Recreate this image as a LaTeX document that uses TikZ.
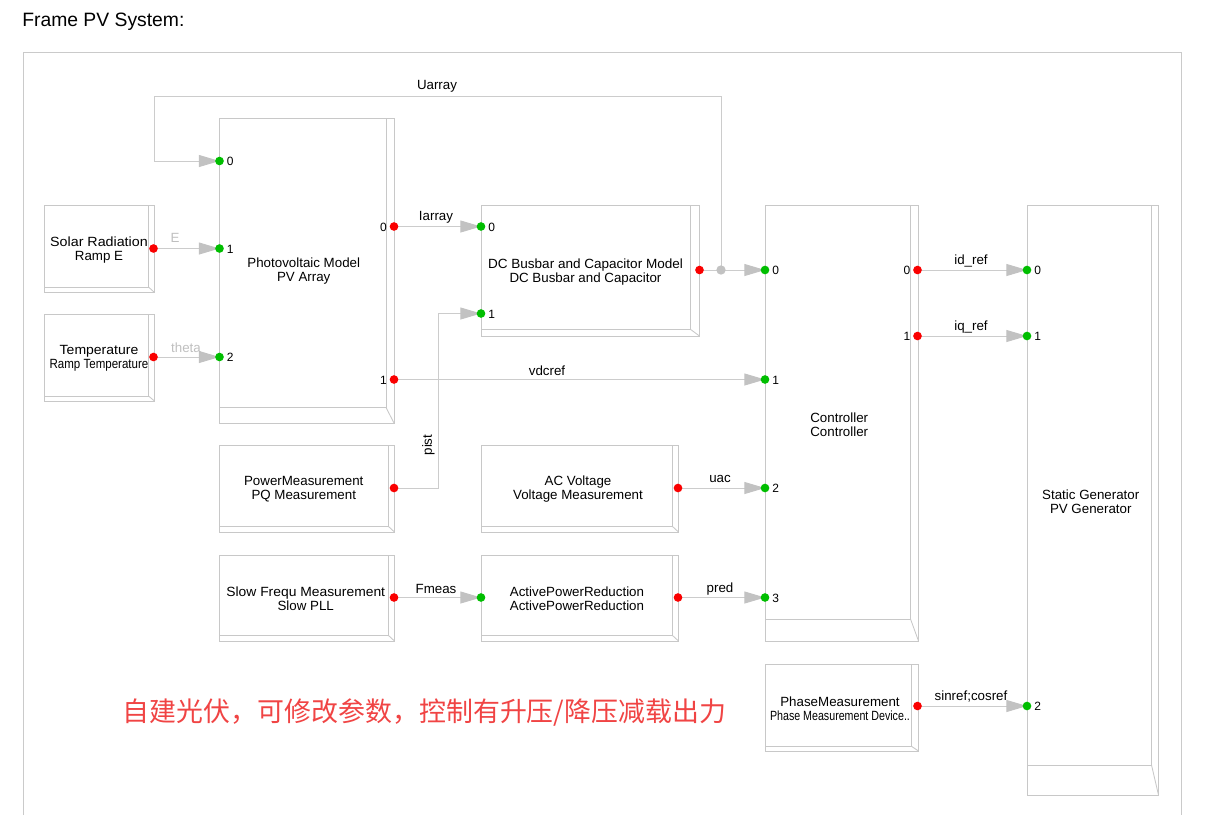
\documentclass[tikz,border=0pt]{standalone}
\usepackage{fontspec}
\usepackage{graphicx}
\setmainfont{Liberation Sans}
\newfontfamily\cjkfont{Noto Sans CJK SC}
\usetikzlibrary{arrows.meta,backgrounds}
\definecolor{boxline}{HTML}{C8C8C8}
\definecolor{wireline}{HTML}{CCCCCC}
\definecolor{tipgray}{HTML}{C2C2C2}
\definecolor{portgreen}{HTML}{00BE00}
\definecolor{portred}{HTML}{FA0000}
\definecolor{framegray}{HTML}{CACACA}
\definecolor{notered}{HTML}{F04444}
\tikzset{
  x=0.75pt,y=-0.75pt,
  every node/.style={font=\fontsize{10pt}{10.5pt}\selectfont,text=black},
  blocktext/.style={inner sep=0pt,outer sep=0pt,align=center},
  shell/.style={draw=boxline,line width=0.65pt},
  wire/.style={draw=wireline,line width=0.7pt,-{Triangle[length=15.5pt,width=9pt,fill=tipgray,color=tipgray]}},
  plainwire/.style={draw=wireline,line width=0.7pt},
  inport/.style={circle,fill=portgreen,inner sep=0pt,minimum size=6.5pt},
  outport/.style={circle,fill=portred,inner sep=0pt,minimum size=6.5pt},
  junction/.style={circle,fill=tipgray,inner sep=0pt,minimum size=7pt},
  portnum/.style={font=\fontsize{9pt}{10pt}\selectfont,inner sep=0pt},
  siglabel/.style={inner sep=0pt},
  faintlabel/.style={inner sep=0pt,text=black!25},
}
% [text x shift]{name}{x0}{y0}{x1}{y1}{inner x}{inner y}{text}
\newcommand{\blockshape}[9][1]{%
  \draw[shell] (#3,#4) rectangle (#5,#6);
  \draw[shell] (#7,#4) -- (#7,#8) -- (#3,#8);
  \draw[shell] (#7,#8) -- (#5,#6);
  \node[blocktext] (#2) at ({(#3+#7)/2+#1},{(#4+#6)/2+1}) {#9};
}
\newcommand{\squeezed}[2]{\scalebox{#1}[1]{#2}}
\newcommand{\inp}[4]{\node[inport] (#1) at (#2,#3) {};\node[portnum,anchor=west] (#1n) at (#2+7,#3+0.5) {#4};}
\newcommand{\outp}[4]{\node[outport] (#1) at (#2,#3) {};\node[portnum,anchor=east] (#1n) at (#2-7,#3+0.5) {#4};}
\begin{document}
\begin{tikzpicture}
\useasboundingbox (0,0) rectangle (1217,815);
\node[anchor=west,inner sep=0pt,font=\fontsize{14.5pt}{16pt}\selectfont] (title) at (22,21.5) {Frame PV System:};
\draw[framegray,line width=0.7pt] (23,815) -- (23,52.5) -- (1181,52.5) -- (1181,815);

\blockshape[2.5]{solar}{44.5}{205.5}{154.5}{292.5}{148.5}{287}{\squeezed{1.07}{Solar Radiation}\\Ramp E}
\blockshape[2.5]{temp}{44.5}{314}{154.5}{401}{148.5}{396}{\squeezed{1.05}{Temperature}\\\squeezed{0.865}{Ramp Temperature}}
\blockshape[1]{pv}{219.5}{118}{394}{423}{386}{407.5}{Photovoltaic Model\\PV Array}
\blockshape[0]{pq}{219.5}{445}{394.5}{532}{388}{526}{PowerMeasurement\\PQ Measurement}
\blockshape[2]{pll}{219.5}{555}{394.5}{641}{388}{635}{\squeezed{1.04}{Slow Frequ Measurement}\\Slow PLL}
\blockshape[0]{dc}{481}{205.5}{699.5}{336}{690}{329}{\squeezed{1.015}{DC Busbar and Capacitor Model}\\DC Busbar and Capacitor}
\blockshape[1.5]{acv}{481}{445}{678.5}{532}{672}{526}{AC Voltage\\Voltage Measurement}
\blockshape[0.5]{apr}{481}{555}{678.5}{641}{672}{635}{ActivePowerReduction\\ActivePowerReduction}
\blockshape[1.5]{ctrl}{765}{205.5}{918.5}{641}{910.5}{619}{Controller\\Controller}
\blockshape[2]{phase}{765}{664}{918.5}{751}{911}{746}{PhaseMeasurement\\\squeezed{0.8}{Phase Measurement Device..}}
\blockshape[1.5]{sg}{1027}{205.5}{1158.5}{795}{1151.5}{765}{Static Generator\\PV Generator}

\inp{pvA}{219.5}{161}{0}
\inp{pvB}{219.5}{248.5}{1}
\inp{pvC}{219.5}{357}{2}
\outp{pvX}{394}{226.5}{0}
\outp{pvY}{394}{379.5}{1}
\node[outport] (solarO) at (153.5,248.5) {};
\node[outport] (tempO) at (153.5,357) {};
\inp{dcA}{481}{226.5}{0}
\inp{dcB}{481}{313.5}{1}
\node[outport] (dcO) at (699.5,270) {};
\node[junction] (jn) at (721,270) {};
\inp{ctA}{765}{270}{0}
\inp{ctB}{765}{379.5}{1}
\inp{ctC}{765}{488}{2}
\inp{ctD}{765}{597.5}{3}
\outp{ctX}{917.5}{270}{0}
\outp{ctY}{917.5}{336}{1}
\inp{sgA}{1027}{270}{0}
\inp{sgB}{1027}{336}{1}
\inp{sgC}{1027}{706}{2}
\node[outport] (pqO) at (394,488) {};
\node[outport] (acO) at (678,488) {};
\node[outport] (pllO) at (394,597.5) {};
\node[inport] (aprI) at (481,597.5) {};
\node[outport] (aprO) at (678,597.5) {};
\node[outport] (phO) at (917.5,706) {};

\begin{scope}[on background layer]
\draw[wire] (jn.center) -- (721,96) -- (154.5,96) -- (154.5,161) -- (pvA.center);
\draw[wire] (solarO.center) -- (pvB.center);
\draw[wire] (tempO.center) -- (pvC.center);
\draw[wire] (pvX.center) -- (dcA.center);
\draw[wire] (pqO.center) -- (438,488) -- (438,313.5) -- (dcB.center);
\draw[plainwire] (dcO.center) -- (jn.center);
\draw[wire] (jn.center) -- (ctA.center);
\draw[wire] (pvY.center) -- (ctB.center);
\draw[wire] (acO.center) -- (ctC.center);
\draw[wire] (aprO.center) -- (ctD.center);
\draw[wire] (pllO.center) -- (aprI.center);
\draw[wire] (ctX.center) -- (sgA.center);
\draw[wire] (ctY.center) -- (sgB.center);
\draw[wire] (phO.center) -- (sgC.center);
\end{scope}

\node[siglabel] (lU) at (437,86) {Uarray};
\node[faintlabel] (lE) at (175,238) {E};
\node[faintlabel] (lT) at (186,348) {theta};
\node[siglabel] (lI) at (436,217) {Iarray};
\node[siglabel] (lV) at (547,370.5) {vdcref};
\node[siglabel,rotate=90] (lP) at (428.5,445) {pist};
\node[siglabel] (lA) at (720,479) {uac};
\node[siglabel] (lF) at (436,589) {Fmeas};
\node[siglabel] (lR) at (720,589) {pred};
\node[siglabel] (lD) at (971,261) {id\_ref};
\node[siglabel] (lQ) at (971,327) {iq\_ref};
\node[siglabel] (lS) at (971,697) {sinref;cosref};

\node[inner sep=0pt,text=notered,font=\cjkfont\fontsize{20.2pt}{24pt}\selectfont] (note) at (424.5,712.5) {自建光伏，可修改参数，控制有升压/降压减载出力};
\end{tikzpicture}
\end{document}
